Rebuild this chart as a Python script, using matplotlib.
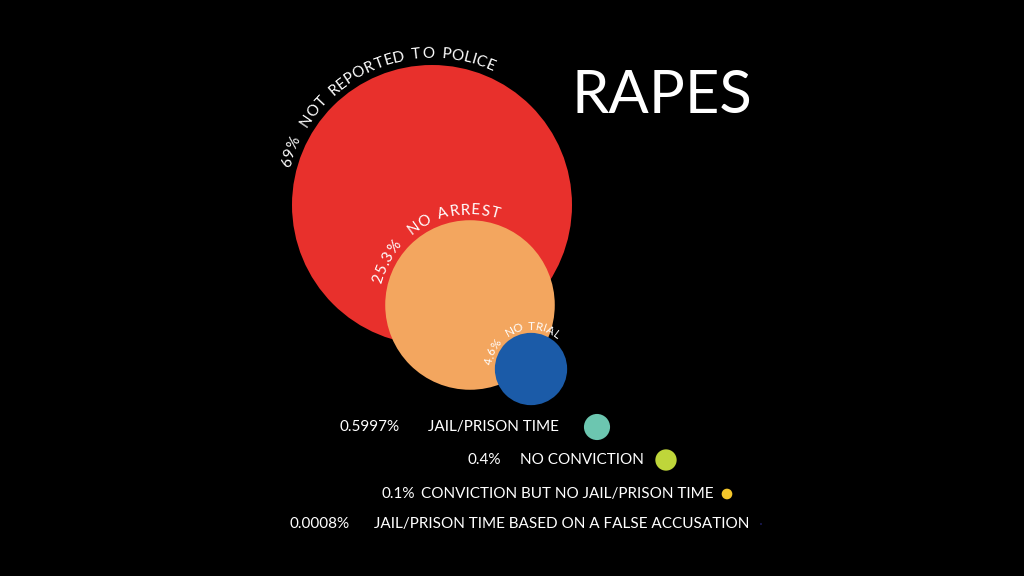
import numpy as np
import matplotlib
matplotlib.use("Agg")
import matplotlib.pyplot as plt
from matplotlib.patches import Circle
from matplotlib.textpath import TextPath
from matplotlib.font_manager import FontProperties

#
# data
#
big_labels = ["NOT REPORTED TO POLICE", "NO ARREST", "NO TRIAL"]
big_values = [69, 25.3, 4.6]
big_pct = ["69%", "25.3%", "4.6%"]
big_colors = ["#e8302c", "#f3a65f", "#1b5ba8"]

small_labels = ["JAIL/PRISON TIME", "NO CONVICTION",
                "CONVICTION BUT NO JAIL/PRISON TIME",
                "JAIL/PRISON TIME BASED ON A FALSE ACCUSATION"]
small_values = [0.5997, 0.4, 0.1, 0.0008]
small_pct = ["0.5997%", "0.4%", "0.1%", "0.0008%"]
small_colors = ["#6cc6b0", "#bfd63a", "#f5c72b", "#2a2a8a"]

#
# layout (pixel space, y down)
#
R0 = 140.0  # radius of the 69% circle
big_centres = [(432, 205), (470, 305), (531, 369)]
arc_start = [165, 166, 174]   # degrees, text runs clockwise
arc_end = [66, 72, 50]
arc_gap = [7, 6, 3]
arc_size = [11, 11, 8.5]
small_rows = [427, 460, 494, 524]
small_cx = [597, 666, 727, 761]
pct_x = [340, 468, 382, 289]
lab_x = [428, 520, 421, 374]

FONT = "Lato"
fp = FontProperties(family=FONT)

fig = plt.figure(figsize=(10.24, 5.76), dpi=100, facecolor="black")
ax = fig.add_axes([0, 0, 1, 1])
ax.set_xlim(0, 1024)
ax.set_ylim(576, 0)
ax.set_aspect("equal")
ax.axis("off")
ax.set_facecolor("black")


def radius(v):
    return R0 * np.sqrt(v / big_values[0])


def arc_text(s, cx, cy, r, start, end, size):
    # place characters one by one along a circle, clockwise,
    # spread so the string fills start..end
    px = size * 100 / 72.0
    widths = []
    for ch in s:
        if ch == " ":
            w = px * 0.3
        else:
            w = TextPath((0, 0), ch, size=px, prop=fp).get_extents().width
        widths.append(w)
    widths = np.array(widths)
    span = np.radians(start - end) * r
    extra = (span - widths.sum()) / max(len(s) - 1, 1)
    ang = np.radians(start)
    for ch, w in zip(s, widths):
        half = (w / 2) / r
        ang -= half
        x = cx + r * np.cos(ang)
        y = cy - r * np.sin(ang)
        ax.text(x, y, ch, color="white", fontsize=size, family=FONT,
                rotation=np.degrees(ang) - 90,
                ha="center", va="baseline", rotation_mode="anchor")
        ang -= half + extra / r


for i, v in enumerate(big_values):
    cx, cy = big_centres[i]
    ax.add_patch(Circle((cx, cy), radius(v), color=big_colors[i], lw=0))

for i, v in enumerate(big_values):
    cx, cy = big_centres[i]
    arc_text(big_pct[i] + "  " + big_labels[i], cx, cy, radius(v) + arc_gap[i],
             arc_start[i], arc_end[i], arc_size[i])

for i, v in enumerate(small_values):
    y = small_rows[i]
    r = max(radius(v), 0.8)
    ax.add_patch(Circle((small_cx[i], y), r, color=small_colors[i], lw=0))
    ax.text(pct_x[i], y, small_pct[i], color="white", fontsize=11,
            family=FONT, ha="left", va="center")
    ax.text(lab_x[i], y, small_labels[i], color="white", fontsize=11,
            family=FONT, ha="left", va="center")

ax.text(662, 96, "RAPES", color="white", fontsize=43, family=FONT,
        ha="center", va="center")

fig.savefig("out.png", dpi=100, facecolor="black")
